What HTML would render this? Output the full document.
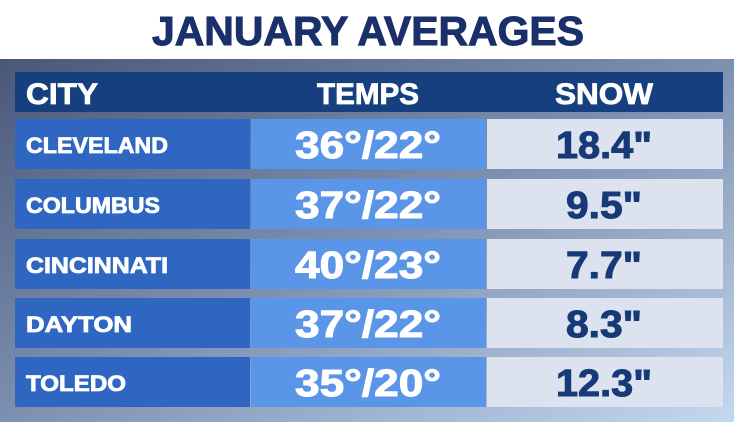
<!DOCTYPE html>
<html><head><style>html,body{margin:0;padding:0;background:#fff}svg{display:block}</style></head><body>
<svg width="734" height="422" xmlns="http://www.w3.org/2000/svg" font-family="Liberation Sans, sans-serif" font-weight="bold">
<defs>
<linearGradient id="bg" x1="0" y1="0" x2="1" y2="1">
<stop offset="0" stop-color="#4a5878"/><stop offset="0.5" stop-color="#7d90b0"/><stop offset="1" stop-color="#c4d8f0"/>
</linearGradient>
</defs>
<rect width="734" height="422" fill="#fff"/>
<text x="368" y="45" font-size="41" fill="#1b2f6a" stroke="#1b2f6a" stroke-width="1" text-anchor="middle" textLength="432" lengthAdjust="spacingAndGlyphs">JANUARY AVERAGES</text>
<rect x="0" y="59" width="734" height="363" fill="url(#bg)"/>
<rect x="15" y="72" width="708" height="40" fill="#163f7f"/>
<g fill="#fff" stroke="#fff" stroke-width="0.8">
<text x="26" y="104" font-size="30" textLength="72" lengthAdjust="spacingAndGlyphs">CITY</text>
<text x="368" y="104" font-size="30" text-anchor="middle" textLength="102" lengthAdjust="spacingAndGlyphs">TEMPS</text>
<text x="604" y="104" font-size="30" text-anchor="middle" textLength="98" lengthAdjust="spacingAndGlyphs">SNOW</text>
</g>
<rect x="15" y="119" width="235" height="50" fill="#2e66c2"/><rect x="251" y="119" width="235" height="50" fill="#5b95e8"/><rect x="487" y="119" width="236" height="50" fill="#dde3ee"/>
<rect x="15" y="179" width="235" height="50" fill="#2e66c2"/><rect x="251" y="179" width="235" height="50" fill="#5b95e8"/><rect x="487" y="179" width="236" height="50" fill="#dde3ee"/>
<rect x="15" y="239" width="235" height="50" fill="#2e66c2"/><rect x="251" y="239" width="235" height="50" fill="#5b95e8"/><rect x="487" y="239" width="236" height="50" fill="#dde3ee"/>
<rect x="15" y="298" width="235" height="50" fill="#2e66c2"/><rect x="251" y="298" width="235" height="50" fill="#5b95e8"/><rect x="487" y="298" width="236" height="50" fill="#dde3ee"/>
<rect x="15" y="357" width="235" height="50" fill="#2e66c2"/><rect x="251" y="357" width="235" height="50" fill="#5b95e8"/><rect x="487" y="357" width="236" height="50" fill="#dde3ee"/>
<g fill="#fff" stroke="#fff" stroke-width="0.8" font-size="22">
<text x="26" y="153" textLength="142" lengthAdjust="spacingAndGlyphs">CLEVELAND</text>
<text x="26" y="213" textLength="134" lengthAdjust="spacingAndGlyphs">COLUMBUS</text>
<text x="26" y="273" textLength="142" lengthAdjust="spacingAndGlyphs">CINCINNATI</text>
<text x="26" y="332" textLength="106" lengthAdjust="spacingAndGlyphs">DAYTON</text>
<text x="26" y="391" textLength="100" lengthAdjust="spacingAndGlyphs">TOLEDO</text>
</g>
<g fill="#fff" stroke="#fff" stroke-width="1" font-size="38" text-anchor="middle">
<text x="368" y="158" textLength="146" lengthAdjust="spacingAndGlyphs">36°/22°</text>
<text x="368" y="218" textLength="146" lengthAdjust="spacingAndGlyphs">37°/22°</text>
<text x="368" y="278" textLength="146" lengthAdjust="spacingAndGlyphs">40°/23°</text>
<text x="368" y="337" textLength="146" lengthAdjust="spacingAndGlyphs">37°/22°</text>
<text x="368" y="396" textLength="146" lengthAdjust="spacingAndGlyphs">35°/20°</text>
</g>
<g fill="#163a78" stroke="#163a78" stroke-width="1" font-size="38" text-anchor="middle">
<text x="604" y="158" textLength="96" lengthAdjust="spacingAndGlyphs">18.4"</text>
<text x="604" y="218" textLength="76" lengthAdjust="spacingAndGlyphs">9.5"</text>
<text x="604" y="278" textLength="76" lengthAdjust="spacingAndGlyphs">7.7"</text>
<text x="604" y="337" textLength="76" lengthAdjust="spacingAndGlyphs">8.3"</text>
<text x="604" y="396" textLength="96" lengthAdjust="spacingAndGlyphs">12.3"</text>
</g>
</svg>
</body></html>
